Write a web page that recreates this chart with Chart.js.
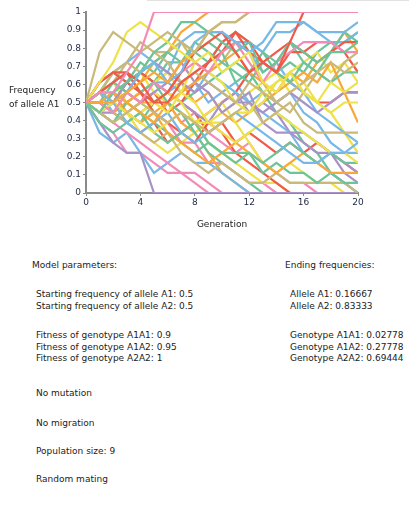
<!DOCTYPE html>
<html>
<head>
<meta charset="utf-8">
<script src="https://cdn.jsdelivr.net/npm/chart.js@4.4.0/dist/chart.umd.min.js"></script>
<style>
  body { margin: 0; background: #fff; width: 409px; height: 505px; overflow: hidden; position: relative;
         font-family: "DejaVu Sans", sans-serif; color: #222; }
  #chartBox { position: absolute; left: 0; top: 0; width: 409px; height: 230px; }
  .txt { position: absolute; font-size: 9px; white-space: nowrap; line-height: 12px; }
  #topline { position: absolute; left: 147px; top: 0; width: 262px; height: 1px; background: #e2e2e2; }
</style>
</head>
<body>
<div id="topline"></div>
<div id="chartBox"><canvas id="drift" width="409" height="230"></canvas></div>

<div class="txt" style="left:9px; top:83px; line-height:14px;">Frequency<br>of allele A1</div>

<div class="txt" style="left:32px; top:259px;">Model parameters:</div>
<div class="txt" style="left:36px; top:288px;">Starting frequency of allele A1: 0.5</div>
<div class="txt" style="left:36px; top:300px;">Starting frequency of allele A2: 0.5</div>
<div class="txt" style="left:36px; top:329px;">Fitness of genotype A1A1: 0.9</div>
<div class="txt" style="left:36px; top:341px;">Fitness of genotype A1A2: 0.95</div>
<div class="txt" style="left:36px; top:352px;">Fitness of genotype A2A2: 1</div>
<div class="txt" style="left:36px; top:387px;">No mutation</div>
<div class="txt" style="left:36px; top:417px;">No migration</div>
<div class="txt" style="left:36px; top:445px;">Population size: 9</div>
<div class="txt" style="left:36px; top:473px;">Random mating</div>

<div class="txt" style="left:285px; top:259px;">Ending frequencies:</div>
<div class="txt" style="left:290px; top:288px;">Allele A1: 0.16667</div>
<div class="txt" style="left:290px; top:300px;">Allele A2: 0.83333</div>
<div class="txt" style="left:290px; top:329px;">Genotype A1A1: 0.02778</div>
<div class="txt" style="left:290px; top:341px;">Genotype A1A2: 0.27778</div>
<div class="txt" style="left:290px; top:352px;">Genotype A2A2: 0.69444</div>

<script>
// generations 0..20
const generations = [0,1,2,3,4,5,6,7,8,9,10,11,12,13,14,15,16,17,18,19,20];
const xTicks = [0, 4, 8, 12, 16, 20];

// population of 9 -> 18 gene copies; each run = copies of A1 per generation
const COPIES = 18;
const runs = [
  { color: 'pink',   copies: [9,10,10,12,14,18,18,18,18,18,18,18,18,18,18,18,18,18,18,18,18] },
  { color: 'olive',  copies: [9,14,16,15,14,15,16,15,14,16,17,17,18,18,18,18,18,18,18,18,18] },
  { color: 'yellow', copies: [9,11,13,16,17,16,15,14,13,14,12,13,14,11,10,12,10,9,11,10,11] },
  { color: 'orange', copies: [9,9,9,10,11,12,11,13,14,16,17,17,18,18,18,18,18,18,18,18,18] },
  { color: 'blue',   copies: [9,10,9,10,12,13,11,12,15,16,16,15,14,15,17,17,17,16,16,16,17] },
  { color: 'red',    copies: [9,10,11,12,11,9,10,12,14,15,16,14,12,13,12,15,18,18,18,18,18] },
  { color: 'green',  copies: [9,8,10,11,12,14,15,17,17,16,15,14,15,12,13,15,14,13,14,14,15] },
  { color: 'pink',   copies: [9,9,8,10,9,11,10,12,13,12,14,15,13,11,13,14,15,15,15,14,14] },
  { color: 'red',    copies: [9,11,12,12,10,9,9,11,12,13,14,16,15,13,12,14,14,13,14,15,15] },
  { color: 'olive',  copies: [9,10,12,13,12,14,13,11,12,11,10,9,11,10,9,10,11,12,13,12,13] },
  { color: 'green',  copies: [9,10,11,10,12,13,14,13,15,14,13,12,11,13,12,11,13,12,11,12,12] },
  { color: 'yellow', copies: [9,8,9,10,11,9,8,10,13,12,11,9,8,10,11,12,10,9,8,9,9] },
  { color: 'purple', copies: [9,8,9,11,12,13,12,11,10,11,10,9,9,8,9,10,9,8,9,10,10] },
  { color: 'orange', copies: [9,9,10,9,8,7,9,10,11,12,13,14,12,11,10,11,12,11,13,10,7] },
  { color: 'olive',  copies: [9,8,7,8,9,8,7,8,7,6,7,8,9,7,8,9,7,6,6,6,6] },
  { color: 'blue',   copies: [9,8,9,7,6,7,8,6,5,6,7,8,7,6,5,4,3,3,4,4,5] },
  { color: 'yellow', copies: [9,10,9,8,7,6,7,8,7,7,6,5,6,7,8,7,6,5,4,4,3] },
  { color: 'green',  copies: [9,8,7,9,8,6,5,6,7,5,4,3,4,3,4,5,4,3,4,3,3] },
  { color: 'orange', copies: [9,9,10,8,7,8,6,5,4,3,4,5,4,3,2,3,4,3,2,2,2] },
  { color: 'green',  copies: [9,7,6,7,8,7,6,5,4,5,4,4,4,2,3,2,2,1,2,1,1] },
  { color: 'olive',  copies: [9,9,8,7,6,5,6,4,3,2,3,2,1,1,2,1,1,1,1,1,0] },
  { color: 'purple', copies: [9,7,5,4,4,0,0,0,0,0,0,0,0,0,0,0,0,0,0,0,0] },
  { color: 'pink',   copies: [9,8,7,6,5,4,3,2,2,1,0,0,0,0,0,0,0,0,0,0,0] },
  { color: 'blue',   copies: [9,6,5,6,4,2,3,4,3,3,2,1,0,0,0,0,0,0,0,0,0] },
  { color: 'red',    copies: [9,10,9,11,10,8,7,6,5,7,6,4,3,2,1,0,0,0,0,0,0] },
  { color: 'yellow', copies: [9,10,10,9,8,9,10,9,7,5,4,3,2,1,1,0,0,0,0,0,0] },
  { color: 'green',  copies: [9,9,11,12,10,11,9,8,6,4,3,2,1,0,0,0,0,0,0,0,0] },
  { color: 'orange', copies: [9,9,8,9,10,8,9,7,6,4,2,1,0,0,0,0,0,0,0,0,0] },
  { color: 'pink',   copies: [9,9,10,8,7,8,7,5,5,3,3,2,1,1,0,0,0,0,0,0,0] },
  { color: 'purple', copies: [9,8,8,10,9,10,11,13,11,10,8,9,10,7,6,6,5,4,4,2,1] },
  { color: 'blue',   copies: [9,11,12,13,14,13,12,15,16,16,16,15,14,12,13,11,10,8,7,6,5] },
  { color: 'yellow', copies: [9,10,11,9,10,11,12,10,9,7,8,9,10,11,12,10,11,9,8,6,4] },
  { color: 'red',    copies: [9,11,12,11,12,11,10,9,11,13,15,16,14,13,12,11,10,9,9,10,10] },
  { color: 'green',  copies: [9,10,9,11,12,11,13,13,14,15,14,11,12,14,13,15,13,12,14,16,15] },
  { color: 'blue',   copies: [9,10,8,7,8,9,10,11,10,12,11,10,9,8,7,6,4,3,2,1,0] },
  { color: 'olive',  copies: [9,10,11,13,15,14,14,15,13,12,13,15,14,11,9,8,10,12,11,13,14] },
  { color: 'yellow', copies: [9,8,7,8,6,5,4,5,6,7,7,8,8,9,11,12,13,14,12,13,11] },
  { color: 'pink',   copies: [9,7,6,4,4,3,2,2,1,0,0,0,0,0,0,0,0,0,0,0,0] },
  { color: 'purple', copies: [9,9,8,9,10,11,10,9,8,7,9,10,8,9,8,6,6,5,4,3,2] },
  { color: 'green',  copies: [9,8,9,8,7,9,10,9,10,11,12,13,12,10,8,7,5,4,2,1,0] },
  { color: 'orange', copies: [9,10,11,12,11,13,14,16,17,18,18,18,18,18,18,18,18,18,18,18,18] },
  { color: 'yellow', copies: [9,10,10,11,12,10,9,8,7,8,9,7,5,3,2,3,2,1,1,0,0] },
  { color: 'red',    copies: [9,9,8,7,6,7,5,6,7,8,9,10,12,13,14,15,14,15,15,14,12] },
  { color: 'blue',   copies: [9,9,10,9,10,11,12,11,12,13,14,15,15,14,16,16,17,16,15,15,16] },
  { color: 'green',  copies: [9,10,12,11,13,12,14,15,14,13,15,16,15,14,12,13,12,14,15,15,16] },
  { color: 'red',    copies: [9,10,11,10,9,10,8,9,8,6,7,5,6,5,4,5,4,5,4,3,2] },
  { color: 'orange', copies: [9,8,7,8,9,9,10,11,9,10,8,7,8,9,10,12,11,13,14,16,14] },
  { color: 'pink',   copies: [9,10,9,8,9,10,9,7,8,6,5,4,5,3,2,1,1,0,0,0,0] },
  { color: 'blue',   copies: [9,8,10,11,10,11,11,10,11,9,10,11,9,10,9,10,8,7,5,4,4] }
];

const palette = {
  pink:   '#f28cb6',
  olive:  '#c9b97a',
  yellow: '#eee24a',
  orange: '#f8a838',
  blue:   '#78b8e6',
  red:    '#f05a48',
  green:  '#6cc49a',
  purple: '#a892c8'
};

const axisColor = '#8a8a8a';
const tickColor = '#1f2742';

const datasets = runs.map(r => ({
  data: generations.map((g, i) => ({ x: g, y: r.copies[i] / COPIES })),
  borderColor: palette[r.color],
  borderWidth: 2.2,
  pointRadius: 0,
  tension: 0,
  fill: false
}));

new Chart(document.getElementById('drift'), {
  type: 'line',
  data: { datasets: datasets },
  options: {
    responsive: false,
    animation: false,
    plugins: { legend: { display: false }, tooltip: { enabled: false } },
    layout: { padding: { left: 0, right: 51, top: 12, bottom: 0 } },
    scales: {
      x: {
        type: 'linear',
        min: 0, max: 20,
        afterBuildTicks: s => { s.ticks = xTicks.map(v => ({ value: v })); },
        afterFit: s => { s.height = 37; },
        border: { display: true, color: axisColor, width: 2 },
        grid: { display: true, drawOnChartArea: false, drawTicks: true, tickLength: 3, color: axisColor, lineWidth: 1 },
        ticks: { color: tickColor, font: { family: 'DejaVu Sans', size: 9 }, padding: 1, maxRotation: 0 },
        title: { display: true, text: 'Generation', color: '#222', font: { family: 'DejaVu Sans', size: 9 }, padding: { top: 4, bottom: 0 } }
      },
      y: {
        min: 0, max: 1,
        ticks: {
          stepSize: 0.1, color: tickColor, font: { family: 'DejaVu Sans', size: 9 }, padding: 2,
          callback: v => String(Number(v.toFixed(1)))
        },
        afterFit: s => { s.width = 86; },
        border: { display: true, color: axisColor, width: 2 },
        grid: { display: true, drawOnChartArea: false, drawTicks: true, tickLength: 3, color: axisColor, lineWidth: 1 }
      }
    }
  }
});
</script>
</body>
</html>
